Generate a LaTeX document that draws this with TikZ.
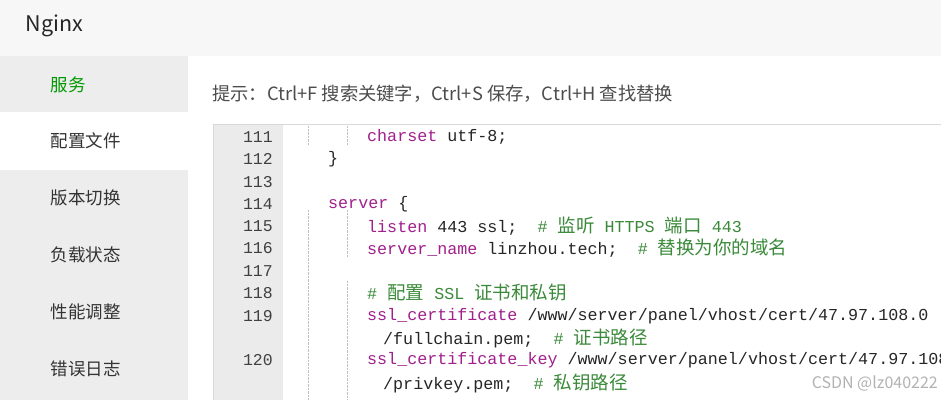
\documentclass[tikz,border=0pt]{standalone}
\usepackage{fontspec}
\setmainfont{Noto Sans CJK SC}
\setmonofont{Liberation Mono}
\newfontfamily\cjk{Noto Sans CJK SC}
\begin{document}
\begin{tikzpicture}[x=1pt,y=-1pt,
  side/.style={anchor=center,font=\cjk\fontsize{17.5}{17.5}\selectfont,text=black!80},
  code/.style={anchor=west,inner sep=0,font=\ttfamily\fontsize{16.7}{16.7}\selectfont,text=black!85},
  num/.style={anchor=east,inner sep=0,font=\ttfamily\fontsize{16.5}{16.5}\selectfont,text=black!75}]
\definecolor{kw}{HTML}{A0208C}
\definecolor{cm}{HTML}{3A8A3A}
\newcommand{\cn}[1]{{\cjk\fontsize{18.5}{18.5}\selectfont #1}}
\fill[white] (0,0) rectangle (941,400);
\useasboundingbox (0,0) rectangle (941,400);
\fill[black!3] (0,0) rectangle (941,56);
\node[anchor=west,font=\fontsize{21.5}{21.5}\selectfont,text=black!85] (title) at (22,26) {Nginx};
\fill[black!7] (0,56) rectangle (188,400);
\fill[white] (0,112) rectangle (188,170);
\node[side,text=green!60!black,anchor=west] (s1) at (47,85) {服务};
\node[side,anchor=west] (s2) at (47,141) {配置文件};
\node[side,anchor=west] (s3) at (47,198) {版本切换};
\node[side,anchor=west] (s4) at (47,255) {负载状态};
\node[side,anchor=west] (s5) at (47,312) {性能调整};
\node[side,anchor=west] (s6) at (47,369) {错误日志};
\node[anchor=west,inner sep=0,font=\cjk\fontsize{18.3}{18.3}\selectfont,text=black!70] (hint) at (212,94) {提示：Ctrl+F 搜索关键字，Ctrl+S 保存，Ctrl+H 查找替换};
\fill[black!8] (213,124) rectangle (283,400);
\draw[black!15] (213,124) -- (941,124);
\draw[black!15] (213,124) -- (213,400);
\foreach \x in {308,347} \draw[black!25,densely dotted] (\x,126) -- (\x,145);
\draw[black!25,densely dotted] (308,210) -- (308,400);
\draw[black!25,densely dotted] (347,210) -- (347,257);
\draw[black!25,densely dotted] (347,281) -- (347,400);
\foreach \n/\y in {111/137,112/159,113/182,114/204,115/226,116/248,117/271,118/293,119/316,120/360}
  \node[num] (n\n) at (273,\y) {\n};
\node[code] (c1) at (367,137) {\textcolor{kw}{charset} utf-8;};
\node[code] (c2) at (328,159) {\}};
\node[code] (c3) at (328,204) {\textcolor{kw}{server} \{};
\node[code] (c4) at (367,226) {\textcolor{kw}{listen} 443 ssl;~~\textcolor{cm}{\# \cn{监听} HTTPS \cn{端口} 443}};
\node[code] (c5) at (367,248) {\textcolor{kw}{server\_name} linzhou.tech;~~\textcolor{cm}{\# \cn{替换为你的域名}}};
\node[code] (c6) at (367,293) {\textcolor{cm}{\# \cn{配置} SSL \cn{证书和私钥}}};
\node[code] (c7) at (367,316) {\textcolor{kw}{ssl\_certificate} /www/server/panel/vhost/cert/47.97.108.0};
\node[code] (c8) at (383,338) {/fullchain.pem;~~\textcolor{cm}{\# \cn{证书路径}}};
\node[code] (c9) at (367,360) {\textcolor{kw}{ssl\_certificate\_key} /www/server/panel/vhost/cert/47.97.108};
\node[code] (c10) at (383,383) {/privkey.pem;~~\textcolor{cm}{\# \cn{私钥路径}}};
\node[anchor=east,inner sep=0,font=\cjk\fontsize{16}{16}\selectfont,text=black!30] (wm) at (938,384) {CSDN @lz040222};
\end{tikzpicture}
\end{document}
